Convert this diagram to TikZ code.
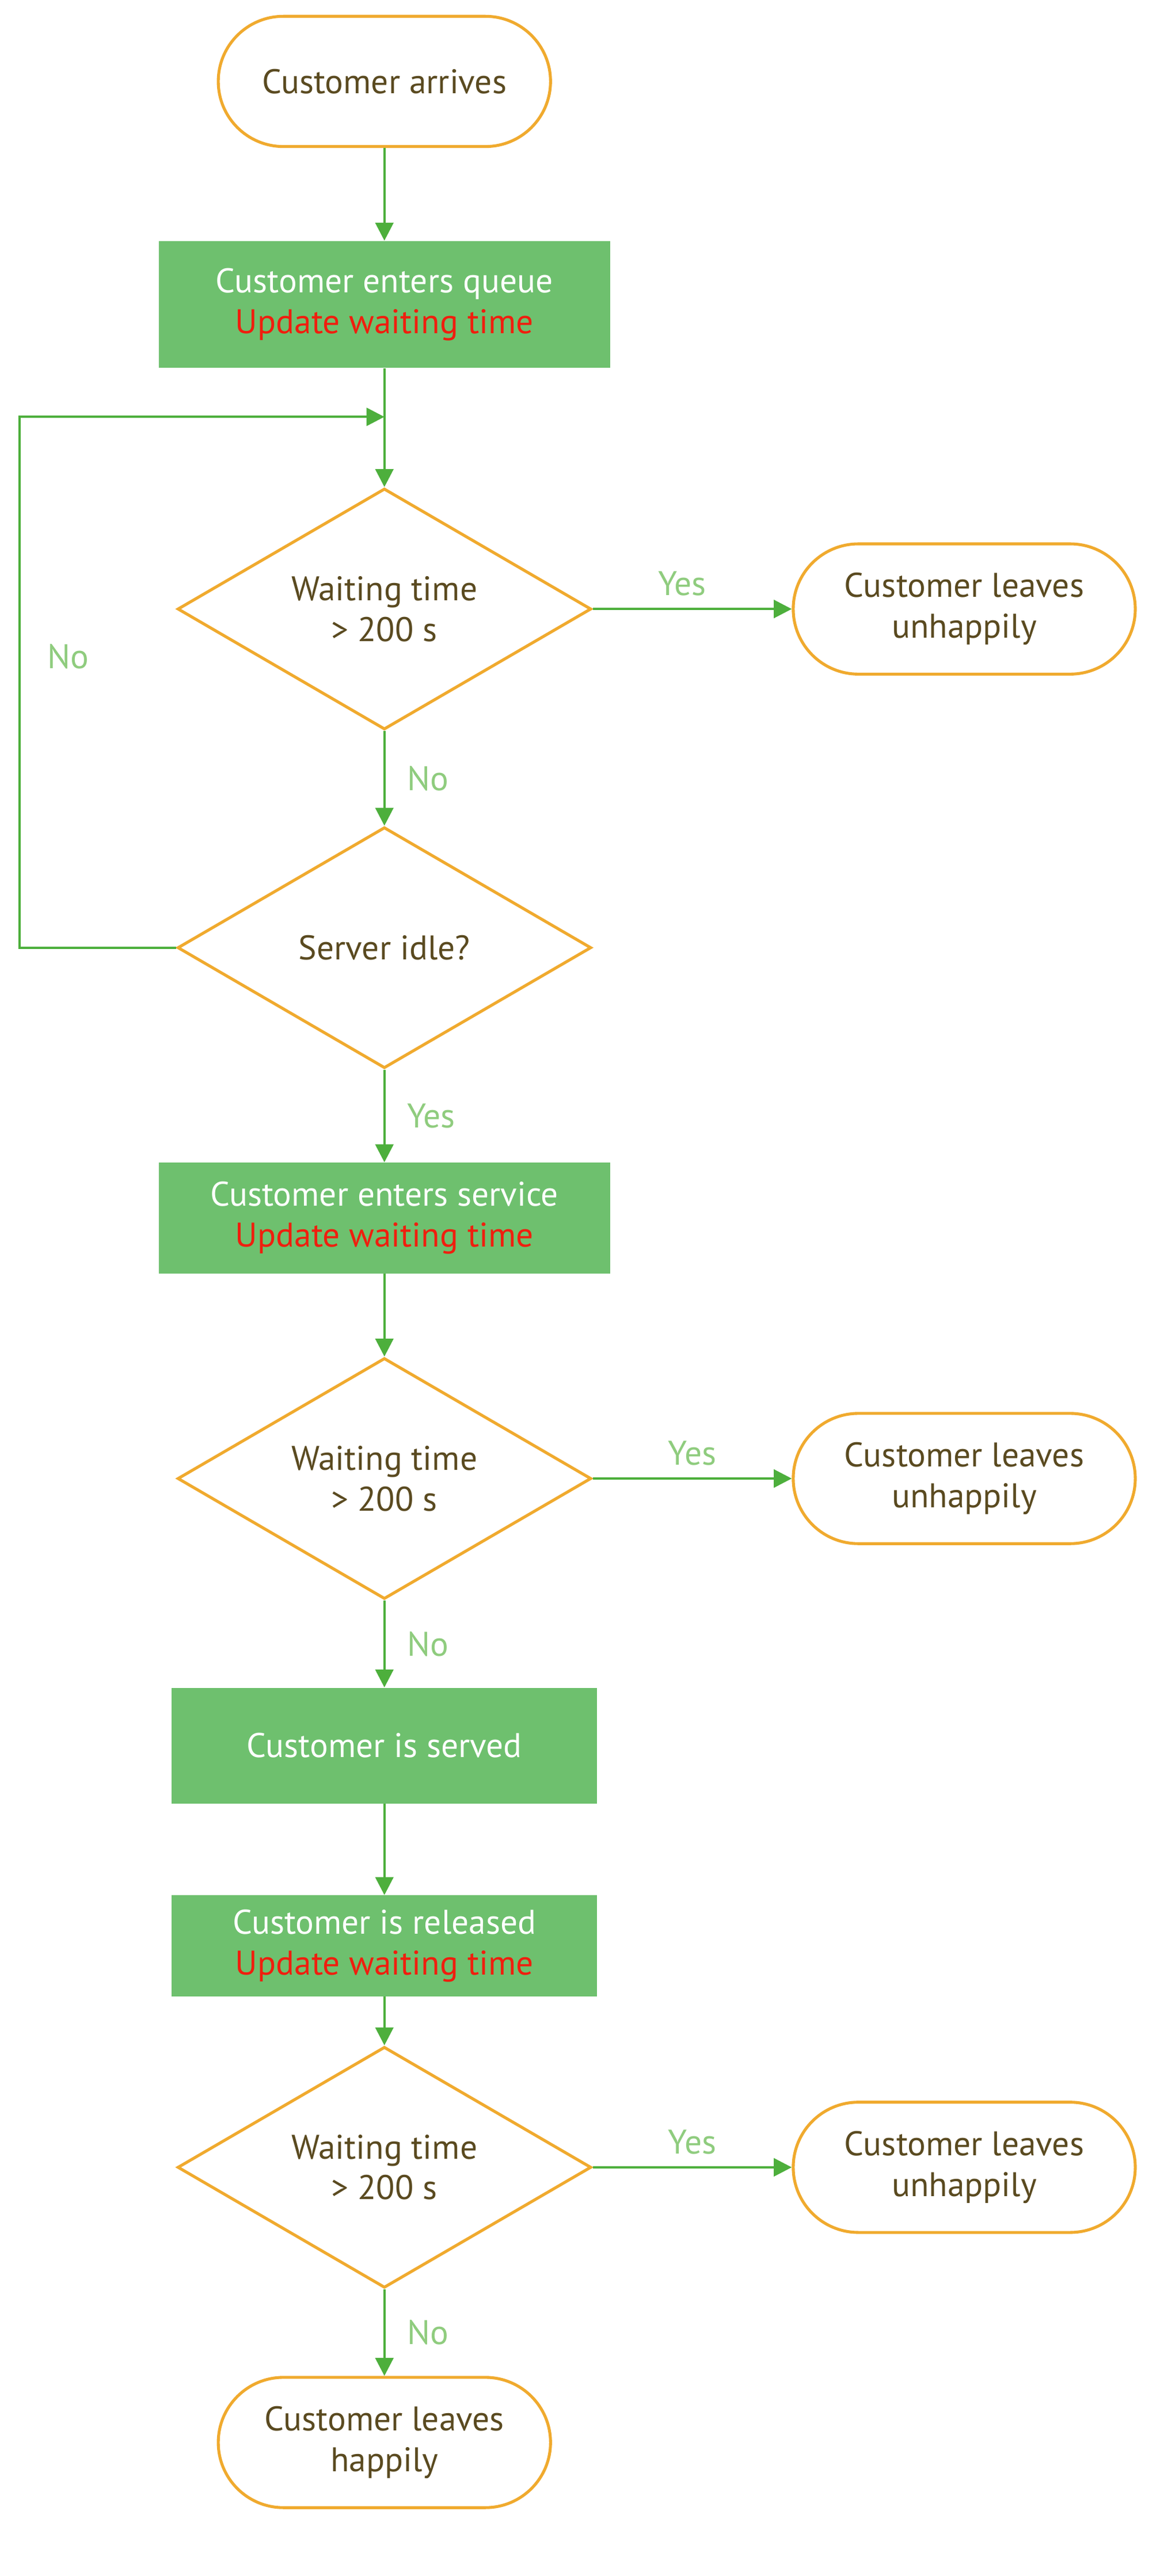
\documentclass[tikz,border=0pt]{standalone}
\usepackage{fontspec}
\setmainfont{PT Sans}
\usetikzlibrary{shapes.geometric,arrows.meta}
\definecolor{org}{HTML}{F0AA2E}
\definecolor{gfill}{HTML}{6EC06E}
\definecolor{garr}{HTML}{4DAF3C}
\definecolor{glab}{HTML}{8FCC7E}
\definecolor{txt}{HTML}{5A4A20}
\definecolor{upd}{HTML}{F01E0E}
\begin{document}
\begin{tikzpicture}[x=1pt,y=-1pt,
  font=\fontsize{21}{25}\selectfont,
  term/.style={draw=org,line width=1.8pt,fill=white,rounded corners=40pt,minimum width=204pt,minimum height=80pt,text=txt,align=center,inner sep=0pt},
  term2/.style={term,minimum width=210pt},
  box/.style={fill=gfill,text=white,align=center,minimum height=#1,inner sep=0pt},
  dec/.style={draw=org,line width=1.8pt,diamond,minimum width=254pt,minimum height=148pt,aspect=1.7,inner sep=0pt,text=txt,align=center},
  arr/.style={draw=garr,line width=1.5pt,-{Triangle[length=11pt,width=11pt]}},
  lab/.style={text=glab}]
\useasboundingbox (0,0) rectangle (712,1582);
\node[term] (start) at (236,50) {Customer arrives};
\node[box=78pt,minimum width=277pt] (b1) at (236,187) {Customer enters queue\\\textcolor{upd}{Update waiting time}};
\node[dec] (d1) at (236,374) {Waiting time\\> 200 s};
\node[term2] (u1) at (592,374) {Customer leaves\\unhappily};
\node[dec] (d2) at (236,582) {Server idle?};
\node[box=68pt,minimum width=277pt] (b2) at (236,748) {Customer enters service\\\textcolor{upd}{Update waiting time}};
\node[dec] (d3) at (236,908) {Waiting time\\> 200 s};
\node[term2] (u2) at (592,908) {Customer leaves\\unhappily};
\node[box=71pt,minimum width=261pt] (b3) at (236,1072) {Customer is served};
\node[box=62pt,minimum width=261pt] (b4) at (236,1195) {Customer is released\\\textcolor{upd}{Update waiting time}};
\node[dec] (d4) at (236,1331) {Waiting time\\> 200 s};
\node[term2] (u3) at (592,1331) {Customer leaves\\unhappily};
\node[term] (end) at (236,1500) {Customer leaves\\happily};
\coordinate (j) at (236,256);
\coordinate (lb) at (12,582);
\coordinate (lt) at (12,256);
\draw[arr] (start) -- (b1);
\draw[arr] (b1) -- (d1);
\draw[arr] (d2.west) -- (lb) -- (lt) -- (j);
\draw[arr] (d1) -- (u1) node[lab,pos=0.45,above=4pt] {Yes};
\draw[arr] (d1) -- (d2) node[lab,pos=0.5,right=10pt] {No};
\node[lab] at (42,403) {No};
\draw[arr] (d2) -- (b2) node[lab,pos=0.5,right=10pt] {Yes};
\draw[arr] (b2) -- (d3);
\draw[arr] (d3) -- (u2) node[lab,pos=0.5,above=4pt] {Yes};
\draw[arr] (d3) -- (b3) node[lab,pos=0.5,right=10pt] {No};
\draw[arr] (b3) -- (b4);
\draw[arr] (b4) -- (d4);
\draw[arr] (d4) -- (u3) node[lab,pos=0.5,above=4pt] {Yes};
\draw[arr] (d4) -- (end) node[lab,pos=0.5,right=10pt] {No};
\end{tikzpicture}
\end{document}
